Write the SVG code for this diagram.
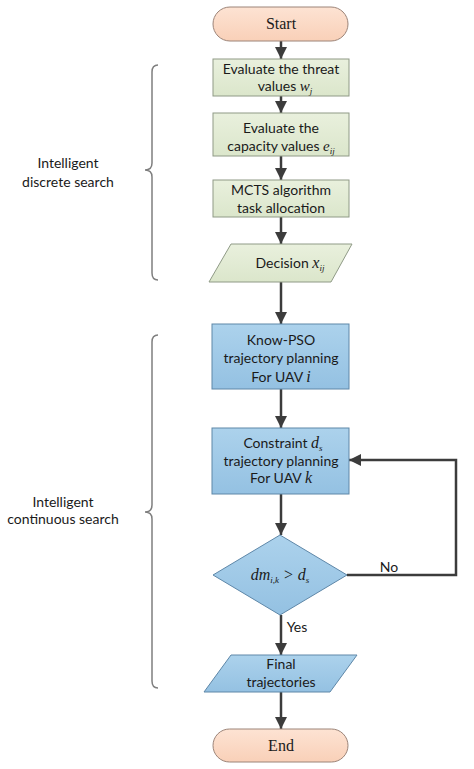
<svg xmlns="http://www.w3.org/2000/svg" width="474" height="769" viewBox="0 0 474 769">
<style>
.t{font-family:Lato,"Liberation Sans",sans-serif;font-size:14px;fill:#1a1a1a;text-anchor:middle}
.m{font-family:"Liberation Serif",serif;font-style:italic;fill:#1a1a1a}
.s{font-family:"Liberation Serif",serif;font-size:16px;fill:#1a1a1a;text-anchor:middle}
.term{fill:url(#gT);stroke:#9c8478;stroke-width:1}
.green{fill:url(#gG);stroke:#8f9a86;stroke-width:1}
.blue{fill:url(#gB);stroke:#5e87a8;stroke-width:1}
.c{fill:none;stroke:#3c3c3c;stroke-width:2.5}
.br{fill:none;stroke:#7f7f7f;stroke-width:1.5}
</style>
<defs>
<linearGradient id="gT" x1="0" y1="0" x2="0" y2="1"><stop offset="0" stop-color="#fde3d3"/><stop offset="1" stop-color="#f9d0b8"/></linearGradient>
<linearGradient id="gG" x1="0" y1="0" x2="0" y2="1"><stop offset="0" stop-color="#e9f0dd"/><stop offset="1" stop-color="#dbe6cb"/></linearGradient>
<linearGradient id="gB" x1="0" y1="0" x2="0" y2="1"><stop offset="0" stop-color="#acd2ec"/><stop offset="1" stop-color="#94c1e2"/></linearGradient>
<marker id="ah" viewBox="0 0 10 10" refX="10" refY="5" markerWidth="12" markerHeight="12" markerUnits="userSpaceOnUse" orient="auto"><path d="M0,0 L10,5 L0,10 z" fill="#3c3c3c"/></marker>
</defs>

<g id="connectors">
<line class="c" x1="281" y1="41" x2="281" y2="59" marker-end="url(#ah)"/>
<line class="c" x1="281" y1="96" x2="281" y2="113" marker-end="url(#ah)"/>
<line class="c" x1="281" y1="156" x2="281" y2="180" marker-end="url(#ah)"/>
<line class="c" x1="281" y1="217" x2="281" y2="244" marker-end="url(#ah)"/>
<line class="c" x1="281" y1="282" x2="281" y2="324" marker-end="url(#ah)"/>
<line class="c" x1="281" y1="389" x2="281" y2="428" marker-end="url(#ah)"/>
<line class="c" x1="281" y1="494" x2="281" y2="535" marker-end="url(#ah)"/>
<line class="c" x1="281" y1="615" x2="281" y2="655" marker-end="url(#ah)"/>
<line class="c" x1="281" y1="692" x2="281" y2="729" marker-end="url(#ah)"/>
<polyline class="c" points="347,575 456,575 456,460 349,460" marker-end="url(#ah)"/>
<text class="t" x="389" y="572">No</text>
<text class="t" x="297" y="632">Yes</text>
</g>

<g id="start">
<rect class="term" x="213" y="7" width="135" height="34" rx="17"/>
<text class="s" x="281" y="29">Start</text>
</g>

<g id="threat">
<rect class="green" x="213" y="59" width="136" height="37"/>
<text class="t" x="281" y="74">Evaluate the threat</text>
<text class="t" x="285" y="91">values <tspan class="m" font-size="15">w</tspan><tspan class="m" font-size="9" dy="3">j</tspan></text>
</g>

<g id="capacity">
<rect class="green" x="213" y="113" width="136" height="43"/>
<text class="t" x="281" y="133">Evaluate the</text>
<text class="t" x="281" y="151">capacity values <tspan class="m" font-size="15">e</tspan><tspan class="m" font-size="9" dy="3">ij</tspan></text>
</g>

<g id="mcts">
<rect class="green" x="213" y="180" width="136" height="37"/>
<text class="t" x="281" y="195">MCTS algorithm</text>
<text class="t" x="281" y="213">task allocation</text>
</g>

<g id="decision">
<polygon class="green" points="231,244 352,244 331,282 209,282"/>
<text class="t" x="290" y="268">Decision <tspan class="m" font-size="16">x</tspan><tspan class="m" font-size="9" dy="3">ij</tspan></text>
</g>

<g id="knowpso">
<rect class="blue" x="212" y="324" width="137" height="65"/>
<text class="t" x="281" y="345">Know-PSO</text>
<text class="t" x="281" y="363">trajectory planning</text>
<text class="t" x="281" y="382">For UAV <tspan class="m" font-size="16">i</tspan></text>
</g>

<g id="constraint">
<rect class="blue" x="212" y="428" width="137" height="66"/>
<text class="t" x="283" y="448">Constraint <tspan class="m" font-size="16">d</tspan><tspan class="m" font-size="9" dy="3">s</tspan></text>
<text class="t" x="281" y="466">trajectory planning</text>
<text class="t" x="281" y="483">For UAV <tspan class="m" font-size="16">k</tspan></text>
</g>

<g id="check">
<polygon class="blue" points="280,535 347,575 280,615 213,575"/>
<text class="m" x="280" y="580" text-anchor="middle" font-size="16">dm<tspan font-size="9" dy="3">i,k</tspan><tspan dy="-3"> &gt; d</tspan><tspan font-size="9" dy="3">s</tspan></text>
</g>

<g id="final">
<polygon class="blue" points="231,655 357,655 330,692 204,692"/>
<text class="t" x="281" y="669">Final</text>
<text class="t" x="281" y="687">trajectories</text>
</g>

<g id="end">
<rect class="term" x="213" y="729" width="135" height="33" rx="16.5"/>
<text class="s" x="281" y="751">End</text>
</g>

<g id="discrete">
<path class="br" d="M158,65 Q152,65 152,72 L152,163 Q152,170 145,170 Q152,170 152,177 L152,273 Q152,280 158,280"/>
<text class="t" x="68" y="168">Intelligent</text>
<text class="t" x="68" y="187">discrete search</text>
</g>

<g id="continuous">
<path class="br" d="M158,335 Q152,335 152,342 L152,505 Q152,512 145,512 Q152,512 152,519 L152,681 Q152,688 158,688"/>
<text class="t" x="63" y="507">Intelligent</text>
<text class="t" x="63" y="524">continuous search</text>
</g>
</svg>
